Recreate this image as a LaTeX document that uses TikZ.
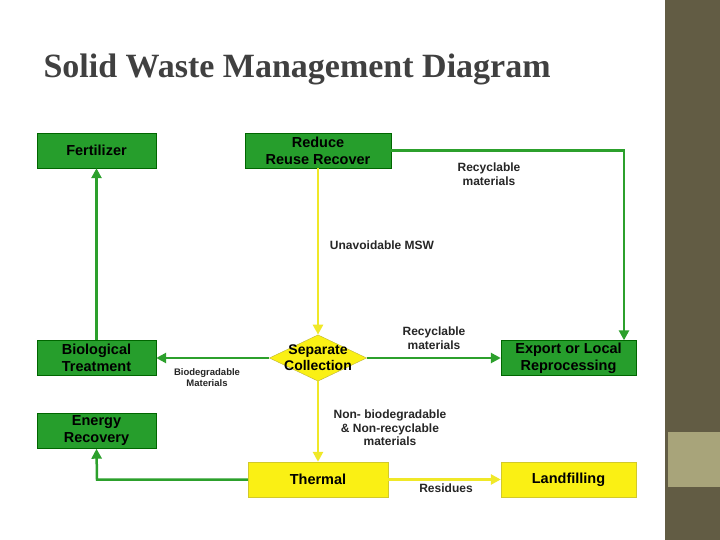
\documentclass[tikz,border=0pt]{standalone}
\usepackage{fontspec}
\setmainfont{Liberation Serif}
\setsansfont{Liberation Sans}
\usetikzlibrary{shapes.geometric,arrows.meta}
\definecolor{boxgreen}{RGB}{38,158,44}
\definecolor{lineg}{RGB}{44,160,44}
\definecolor{boxyel}{RGB}{250,240,20}
\definecolor{liney}{RGB}{240,232,40}
\definecolor{barcol}{RGB}{98,92,68}
\definecolor{patchcol}{RGB}{168,164,122}
\begin{document}
\begin{tikzpicture}[x=1pt,y=-1pt,
    gbox/.style={draw=black!60!green,fill=boxgreen,minimum width=119pt,minimum height=35pt,
                 inner sep=1pt,align=center,font=\sffamily\bfseries\fontsize{14.5}{17}\selectfont},
    ybox/.style={gbox,draw=yellow!80!black,fill=boxyel,minimum width=140pt},
    garrow/.style={lineg,line width=2.5pt,-{Triangle[length=10pt,width=10pt]}},
    yarrow/.style={liney,line width=2.5pt,-{Triangle[length=10pt,width=10pt]}},
    lbl/.style={font=\sffamily\bfseries\fontsize{12}{13.5}\selectfont,align=center,text=black!85},
    slbl/.style={lbl,font=\sffamily\bfseries\fontsize{9.5}{11}\selectfont}]

  % frame and side bar
  \useasboundingbox (0,0) rectangle (720,540);
  \fill[white] (0,0) rectangle (720,540);
  \fill[barcol] (665,0) rectangle (720,540);
  \fill[patchcol] (668,432) rectangle (720,487);

  \node[anchor=west,font=\bfseries\fontsize{34}{38}\selectfont,text=black!75] (title) at (40,69) {Solid Waste Management Diagram};

  % boxes
  \node[gbox] (fert)   at (96.5,150.5) {Fertilizer};
  \node[gbox,minimum width=146pt] (rrr) at (318,150.5) {Reduce\\Reuse Recover};
  \node[gbox] (bio)    at (96.5,358) {Biological\\Treatment};
  \node[gbox] (energy) at (96.5,431) {Energy\\Recovery};
  \node[diamond,aspect=2.1,draw=yellow!70!black,fill=boxyel,inner sep=-4pt,
        align=center,font=\sffamily\bfseries\fontsize{14}{16}\selectfont] (sep) at (318,358) {Separate\\Collection};
  \node[gbox,minimum width=135pt] (export) at (568.5,358) {Export or Local\\Reprocessing};
  \node[ybox] (thermal) at (318,479.5) {Thermal};
  \node[ybox,minimum width=135pt] (land) at (568.5,479.5) {Landfilling};

  \coordinate (rc) at (624,150.5);
  \coordinate (tc) at (97,479.5);

  % connectors
  \draw[yarrow] (rrr) -- (sep);
  \draw[garrow] (rrr.east) -- (rc) -- (rc |- export.north);
  \draw[garrow] (bio) -- (fert);
  \draw[garrow] (sep.west) -- (bio.east);
  \draw[garrow] (sep.east) -- (export.west);
  \draw[yarrow] (sep.south) -- (thermal.north);
  \draw[garrow] (thermal.west) -- (tc) -- (energy.south);
  \draw[yarrow] (thermal.east) -- (land.west);

  % labels
  \node[lbl] (lmsw) at (382,245) {Unavoidable MSW};
  \node[lbl] (lrec1) at (489,174) {Recyclable\\materials};
  \node[lbl] (lrec2) at (434,338) {Recyclable\\materials};
  \node[slbl] (lbio) at (207,378) {Biodegradable\\Materials};
  \node[lbl] (lnon) at (390,428) {Non- biodegradable\\\& Non-recyclable\\materials};
  \node[lbl] (lres) at (446,488) {Residues};
\end{tikzpicture}
\end{document}
